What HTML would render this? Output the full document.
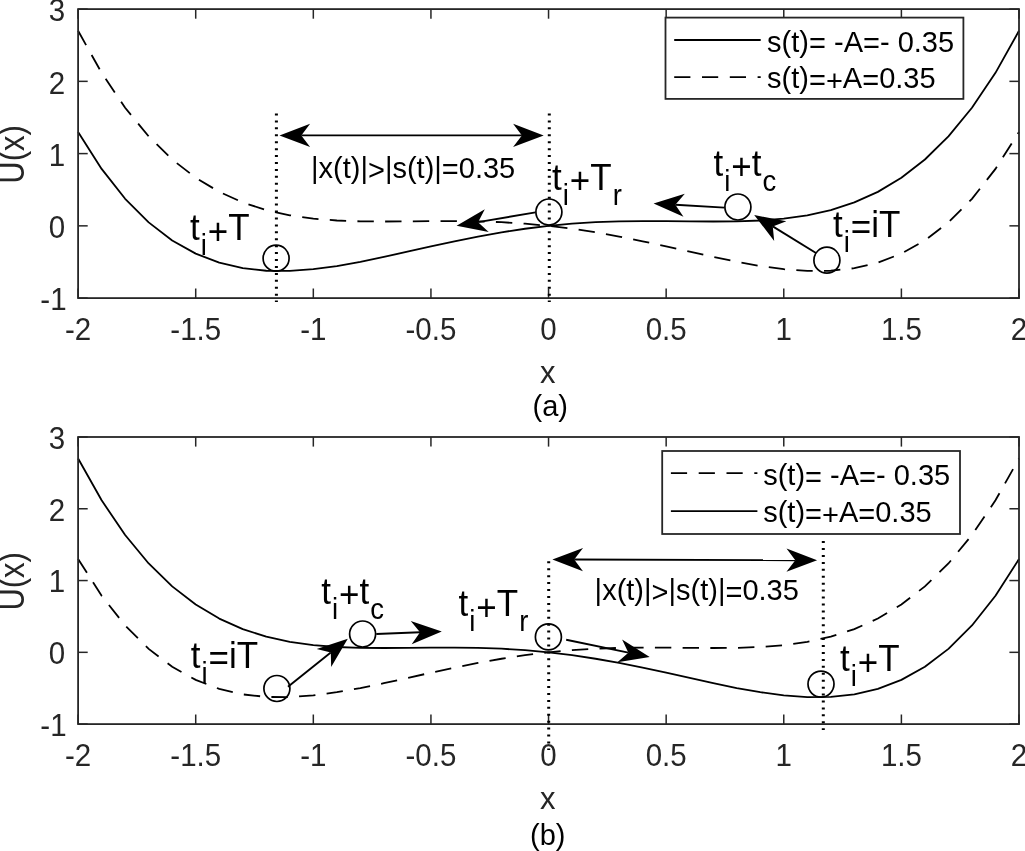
<!DOCTYPE html>
<html><head><meta charset="utf-8"><title>U(x)</title>
<style>
html,body{margin:0;padding:0;background:#fff;overflow:hidden;}
svg{display:block;}
text{font-family:"Liberation Sans", Arial, Helvetica, sans-serif;}
</style></head><body>
<svg width="1025" height="851" viewBox="0 0 1025 851">
<rect width="1025" height="851" fill="#fff"/>
<polyline points="78.10,131.93 101.62,168.92 125.14,198.80 148.67,222.38 172.19,240.42 195.71,253.62 219.24,262.67 242.76,268.19 266.28,270.76 289.80,270.93 313.32,269.20 336.85,266.02 360.37,261.80 383.89,256.92 407.41,251.69 430.94,246.40 454.46,241.28 477.98,236.54 501.50,232.32 525.03,228.74 548.55,225.85 572.07,223.68 595.60,222.21 619.12,221.37 642.64,221.05 666.16,221.11 689.69,221.34 713.21,221.51 736.73,221.34 760.25,220.50 783.77,218.62 807.30,215.30 830.82,210.07 854.34,202.44 877.87,191.86 901.39,177.76 924.91,159.50 948.43,136.40 971.96,107.76 995.48,72.82 1019.00,30.77" fill="none" stroke="#000" stroke-width="1.8" stroke-linejoin="round"/>
<polyline points="78.10,30.77 101.62,72.82 125.14,107.76 148.67,136.40 172.19,159.50 195.71,177.76 219.24,191.86 242.76,202.44 266.28,210.07 289.80,215.30 313.32,218.62 336.85,220.50 360.37,221.34 383.89,221.51 407.41,221.34 430.94,221.11 454.46,221.05 477.98,221.37 501.50,222.21 525.03,223.68 548.55,225.85 572.07,228.74 595.60,232.32 619.12,236.54 642.64,241.28 666.16,246.40 689.69,251.69 713.21,256.92 736.73,261.80 760.25,266.02 783.77,269.20 807.30,270.93 830.82,270.76 854.34,268.19 877.87,262.67 901.39,253.62 924.91,240.42 948.43,222.38 971.96,198.80 995.48,168.92 1019.00,131.93" fill="none" stroke="#000" stroke-width="1.8" stroke-dasharray="16.4 11.3"/>
<rect x="78.1" y="9.1" width="940.90" height="289.00" fill="none" stroke="#262626" stroke-width="1.8"/>
<line x1="78.10" y1="298.1" x2="78.10" y2="288.50" stroke="#262626" stroke-width="1.5"/>
<line x1="78.10" y1="9.1" x2="78.10" y2="18.70" stroke="#262626" stroke-width="1.5"/>
<line x1="195.71" y1="298.1" x2="195.71" y2="288.50" stroke="#262626" stroke-width="1.5"/>
<line x1="195.71" y1="9.1" x2="195.71" y2="18.70" stroke="#262626" stroke-width="1.5"/>
<line x1="313.32" y1="298.1" x2="313.32" y2="288.50" stroke="#262626" stroke-width="1.5"/>
<line x1="313.32" y1="9.1" x2="313.32" y2="18.70" stroke="#262626" stroke-width="1.5"/>
<line x1="430.94" y1="298.1" x2="430.94" y2="288.50" stroke="#262626" stroke-width="1.5"/>
<line x1="430.94" y1="9.1" x2="430.94" y2="18.70" stroke="#262626" stroke-width="1.5"/>
<line x1="548.55" y1="298.1" x2="548.55" y2="288.50" stroke="#262626" stroke-width="1.5"/>
<line x1="548.55" y1="9.1" x2="548.55" y2="18.70" stroke="#262626" stroke-width="1.5"/>
<line x1="666.16" y1="298.1" x2="666.16" y2="288.50" stroke="#262626" stroke-width="1.5"/>
<line x1="666.16" y1="9.1" x2="666.16" y2="18.70" stroke="#262626" stroke-width="1.5"/>
<line x1="783.77" y1="298.1" x2="783.77" y2="288.50" stroke="#262626" stroke-width="1.5"/>
<line x1="783.77" y1="9.1" x2="783.77" y2="18.70" stroke="#262626" stroke-width="1.5"/>
<line x1="901.39" y1="298.1" x2="901.39" y2="288.50" stroke="#262626" stroke-width="1.5"/>
<line x1="901.39" y1="9.1" x2="901.39" y2="18.70" stroke="#262626" stroke-width="1.5"/>
<line x1="1019.00" y1="298.1" x2="1019.00" y2="288.50" stroke="#262626" stroke-width="1.5"/>
<line x1="1019.00" y1="9.1" x2="1019.00" y2="18.70" stroke="#262626" stroke-width="1.5"/>
<line x1="78.1" y1="298.10" x2="87.70" y2="298.10" stroke="#262626" stroke-width="1.5"/>
<line x1="1019" y1="298.10" x2="1009.40" y2="298.10" stroke="#262626" stroke-width="1.5"/>
<line x1="78.1" y1="225.85" x2="87.70" y2="225.85" stroke="#262626" stroke-width="1.5"/>
<line x1="1019" y1="225.85" x2="1009.40" y2="225.85" stroke="#262626" stroke-width="1.5"/>
<line x1="78.1" y1="153.60" x2="87.70" y2="153.60" stroke="#262626" stroke-width="1.5"/>
<line x1="1019" y1="153.60" x2="1009.40" y2="153.60" stroke="#262626" stroke-width="1.5"/>
<line x1="78.1" y1="81.35" x2="87.70" y2="81.35" stroke="#262626" stroke-width="1.5"/>
<line x1="1019" y1="81.35" x2="1009.40" y2="81.35" stroke="#262626" stroke-width="1.5"/>
<line x1="78.1" y1="9.10" x2="87.70" y2="9.10" stroke="#262626" stroke-width="1.5"/>
<line x1="1019" y1="9.10" x2="1009.40" y2="9.10" stroke="#262626" stroke-width="1.5"/>
<text transform="translate(78.10 340.00) scale(1 1.05)" font-size="29.5" text-anchor="middle" fill="#262626">-2</text>
<text transform="translate(195.71 340.00) scale(1 1.05)" font-size="29.5" text-anchor="middle" fill="#262626">-1.5</text>
<text transform="translate(313.32 340.00) scale(1 1.05)" font-size="29.5" text-anchor="middle" fill="#262626">-1</text>
<text transform="translate(430.94 340.00) scale(1 1.05)" font-size="29.5" text-anchor="middle" fill="#262626">-0.5</text>
<text transform="translate(548.55 340.00) scale(1 1.05)" font-size="29.5" text-anchor="middle" fill="#262626">0</text>
<text transform="translate(666.16 340.00) scale(1 1.05)" font-size="29.5" text-anchor="middle" fill="#262626">0.5</text>
<text transform="translate(783.77 340.00) scale(1 1.05)" font-size="29.5" text-anchor="middle" fill="#262626">1</text>
<text transform="translate(901.39 340.00) scale(1 1.05)" font-size="29.5" text-anchor="middle" fill="#262626">1.5</text>
<text transform="translate(1019.00 340.00) scale(1 1.05)" font-size="29.5" text-anchor="middle" fill="#262626">2</text>
<text transform="translate(66.60 310.40) scale(1 1.05)" font-size="29.5" text-anchor="end" fill="#262626">-1</text>
<text transform="translate(65.10 238.15) scale(1 1.05)" font-size="29.5" text-anchor="end" fill="#262626">0</text>
<text transform="translate(65.10 165.90) scale(1 1.05)" font-size="29.5" text-anchor="end" fill="#262626">1</text>
<text transform="translate(65.10 93.65) scale(1 1.05)" font-size="29.5" text-anchor="end" fill="#262626">2</text>
<text transform="translate(65.10 21.40) scale(1 1.05)" font-size="29.5" text-anchor="end" fill="#262626">3</text>
<text transform="translate(547.75 382.50) scale(1 1.0)" font-size="31" text-anchor="middle" fill="#262626">x</text>
<text transform="translate(550.20 416.30) scale(1 1.03)" font-size="29" text-anchor="middle">(a)</text>
<text transform="translate(23.5 154.40) rotate(-90) scale(1 1.14)" font-size="31" text-anchor="middle" fill="#262626">U(x)</text>
<rect x="665.5" y="17.6" width="297.90" height="81.30" fill="#fff" stroke="#262626" stroke-width="1.8"/>
<line x1="674.20" y1="40.0" x2="760.70" y2="40.0" stroke="#000" stroke-width="1.8"/>
<text transform="translate(767.10 52.00) scale(1 1.0)" font-size="29" xml:space="preserve">s(t)<tspan dy="1.45">=</tspan><tspan dy="-1.45"> -A</tspan><tspan dy="1.45">=</tspan><tspan dy="-1.45">- 0.35</tspan></text>
<line x1="674.20" y1="77.1" x2="760.70" y2="77.1" stroke="#000" stroke-width="1.8" stroke-dasharray="16.2 11.6"/>
<text transform="translate(767.10 88.20) scale(1 1.0)" font-size="29" xml:space="preserve">s(t)<tspan dy="1.45">=</tspan><tspan dy="1.45">+</tspan><tspan dy="-2.90">A</tspan><tspan dy="1.45">=</tspan><tspan dy="-1.45">0.35</tspan></text>
<line x1="276.4" y1="113.5" x2="276.4" y2="302" stroke="#000" stroke-width="3.0" stroke-dasharray="2.0 4.93"/>
<line x1="549.3" y1="113.5" x2="549.3" y2="302" stroke="#000" stroke-width="3.0" stroke-dasharray="2.0 4.93"/>
<polygon points="279.50,135.40 310.10,123.80 301.30,135.40 310.10,147.00" fill="#000"/><line x1="301.30" y1="135.40" x2="521.90" y2="135.40" stroke="#000" stroke-width="1.9"/><polygon points="543.70,135.40 513.10,147.00 521.90,135.40 513.10,123.80" fill="#000"/>
<text transform="translate(311.00 178.00) scale(1 1.0)" font-size="29">|x(t)|<tspan dy="1.59">&gt;</tspan><tspan dy="-1.59">|s(t)|</tspan><tspan dy="1.45">=</tspan><tspan dy="-1.45">0.35</tspan></text>
<circle cx="276.1" cy="258.2" r="13" fill="none" stroke="#000" stroke-width="1.7"/>
<circle cx="548.9" cy="212" r="13" fill="none" stroke="#000" stroke-width="1.7"/>
<circle cx="737.9" cy="207.0" r="13" fill="none" stroke="#000" stroke-width="1.7"/>
<circle cx="826.9" cy="260.2" r="13" fill="none" stroke="#000" stroke-width="1.7"/>
<line x1="535.50" y1="212.40" x2="478.09" y2="222.15" stroke="#000" stroke-width="1.9"/><polygon points="456.60,225.80 484.83,209.24 478.09,222.15 488.71,232.11" fill="#000"/>
<line x1="724.50" y1="207.60" x2="675.36" y2="204.76" stroke="#000" stroke-width="1.9"/><polygon points="653.60,203.50 684.82,193.69 675.36,204.76 683.48,216.85" fill="#000"/>
<line x1="816.00" y1="253.00" x2="772.77" y2="226.42" stroke="#000" stroke-width="1.9"/><polygon points="754.20,215.00 786.34,221.15 772.77,226.42 774.19,240.91" fill="#000"/>
<text transform="translate(190.00 240.00) scale(1 1.06)" font-size="35">t<tspan font-size="27.5" dx="1" dy="14.15">i</tspan><tspan dx="1" dy="-10.85">+</tspan><tspan dy="-3.30">T</tspan></text>
<text transform="translate(552.00 189.50) scale(1 1.06)" font-size="35">t<tspan font-size="27.5" dx="1" dy="14.15">i</tspan><tspan dx="1" dy="-10.85">+</tspan><tspan dy="-3.30">T</tspan><tspan font-size="27.5" dx="1" dy="14.15">r</tspan></text>
<text transform="translate(713.50 175.60) scale(1 1.06)" font-size="35">t<tspan font-size="27.5" dx="1" dy="14.15">i</tspan><tspan dx="1" dy="-10.85">+</tspan><tspan dy="-3.30">t</tspan><tspan font-size="27.5" dx="1" dy="14.15">c</tspan></text>
<text transform="translate(833.00 237.40) scale(1 1.06)" font-size="35">t<tspan font-size="27.5" dx="1" dy="14.15">i</tspan><tspan dx="1" dy="-12.50">=</tspan><tspan dy="-1.65">iT</tspan></text>
<polyline points="78.10,458.53 101.62,500.30 125.14,535.02 148.67,563.47 172.19,586.41 195.71,604.55 219.24,618.56 242.76,629.07 266.28,636.65 289.80,641.84 313.32,645.15 336.85,647.01 360.37,647.85 383.89,648.02 407.41,647.85 430.94,647.61 454.46,647.56 477.98,647.87 501.50,648.71 525.03,650.17 548.55,652.33 572.07,655.19 595.60,658.76 619.12,662.95 642.64,667.66 666.16,672.74 689.69,677.99 713.21,683.19 736.73,688.04 760.25,692.23 783.77,695.39 807.30,697.11 830.82,696.94 854.34,694.38 877.87,688.90 901.39,679.91 924.91,666.79 948.43,648.88 971.96,625.45 995.48,595.76 1019.00,559.02" fill="none" stroke="#000" stroke-width="1.8" stroke-linejoin="round"/>
<polyline points="78.10,559.02 101.62,595.76 125.14,625.45 148.67,648.88 172.19,666.79 195.71,679.91 219.24,688.90 242.76,694.38 266.28,696.94 289.80,697.11 313.32,695.39 336.85,692.23 360.37,688.04 383.89,683.19 407.41,677.99 430.94,672.74 454.46,667.66 477.98,662.95 501.50,658.76 525.03,655.19 548.55,652.33 572.07,650.17 595.60,648.71 619.12,647.87 642.64,647.56 666.16,647.61 689.69,647.85 713.21,648.02 736.73,647.85 760.25,647.01 783.77,645.15 807.30,641.84 830.82,636.65 854.34,629.07 877.87,618.56 901.39,604.55 924.91,586.41 948.43,563.47 971.96,535.02 995.48,500.30 1019.00,458.53" fill="none" stroke="#000" stroke-width="1.8" stroke-dasharray="16.4 11.3"/>
<rect x="78.1" y="437" width="940.90" height="287.10" fill="none" stroke="#262626" stroke-width="1.8"/>
<line x1="78.10" y1="724.1" x2="78.10" y2="714.50" stroke="#262626" stroke-width="1.5"/>
<line x1="78.10" y1="437" x2="78.10" y2="446.60" stroke="#262626" stroke-width="1.5"/>
<line x1="195.71" y1="724.1" x2="195.71" y2="714.50" stroke="#262626" stroke-width="1.5"/>
<line x1="195.71" y1="437" x2="195.71" y2="446.60" stroke="#262626" stroke-width="1.5"/>
<line x1="313.32" y1="724.1" x2="313.32" y2="714.50" stroke="#262626" stroke-width="1.5"/>
<line x1="313.32" y1="437" x2="313.32" y2="446.60" stroke="#262626" stroke-width="1.5"/>
<line x1="430.94" y1="724.1" x2="430.94" y2="714.50" stroke="#262626" stroke-width="1.5"/>
<line x1="430.94" y1="437" x2="430.94" y2="446.60" stroke="#262626" stroke-width="1.5"/>
<line x1="548.55" y1="724.1" x2="548.55" y2="714.50" stroke="#262626" stroke-width="1.5"/>
<line x1="548.55" y1="437" x2="548.55" y2="446.60" stroke="#262626" stroke-width="1.5"/>
<line x1="666.16" y1="724.1" x2="666.16" y2="714.50" stroke="#262626" stroke-width="1.5"/>
<line x1="666.16" y1="437" x2="666.16" y2="446.60" stroke="#262626" stroke-width="1.5"/>
<line x1="783.77" y1="724.1" x2="783.77" y2="714.50" stroke="#262626" stroke-width="1.5"/>
<line x1="783.77" y1="437" x2="783.77" y2="446.60" stroke="#262626" stroke-width="1.5"/>
<line x1="901.39" y1="724.1" x2="901.39" y2="714.50" stroke="#262626" stroke-width="1.5"/>
<line x1="901.39" y1="437" x2="901.39" y2="446.60" stroke="#262626" stroke-width="1.5"/>
<line x1="1019.00" y1="724.1" x2="1019.00" y2="714.50" stroke="#262626" stroke-width="1.5"/>
<line x1="1019.00" y1="437" x2="1019.00" y2="446.60" stroke="#262626" stroke-width="1.5"/>
<line x1="78.1" y1="724.10" x2="87.70" y2="724.10" stroke="#262626" stroke-width="1.5"/>
<line x1="1019" y1="724.10" x2="1009.40" y2="724.10" stroke="#262626" stroke-width="1.5"/>
<line x1="78.1" y1="652.33" x2="87.70" y2="652.33" stroke="#262626" stroke-width="1.5"/>
<line x1="1019" y1="652.33" x2="1009.40" y2="652.33" stroke="#262626" stroke-width="1.5"/>
<line x1="78.1" y1="580.55" x2="87.70" y2="580.55" stroke="#262626" stroke-width="1.5"/>
<line x1="1019" y1="580.55" x2="1009.40" y2="580.55" stroke="#262626" stroke-width="1.5"/>
<line x1="78.1" y1="508.77" x2="87.70" y2="508.77" stroke="#262626" stroke-width="1.5"/>
<line x1="1019" y1="508.77" x2="1009.40" y2="508.77" stroke="#262626" stroke-width="1.5"/>
<line x1="78.1" y1="437.00" x2="87.70" y2="437.00" stroke="#262626" stroke-width="1.5"/>
<line x1="1019" y1="437.00" x2="1009.40" y2="437.00" stroke="#262626" stroke-width="1.5"/>
<text transform="translate(78.10 766.00) scale(1 1.05)" font-size="29.5" text-anchor="middle" fill="#262626">-2</text>
<text transform="translate(195.71 766.00) scale(1 1.05)" font-size="29.5" text-anchor="middle" fill="#262626">-1.5</text>
<text transform="translate(313.32 766.00) scale(1 1.05)" font-size="29.5" text-anchor="middle" fill="#262626">-1</text>
<text transform="translate(430.94 766.00) scale(1 1.05)" font-size="29.5" text-anchor="middle" fill="#262626">-0.5</text>
<text transform="translate(548.55 766.00) scale(1 1.05)" font-size="29.5" text-anchor="middle" fill="#262626">0</text>
<text transform="translate(666.16 766.00) scale(1 1.05)" font-size="29.5" text-anchor="middle" fill="#262626">0.5</text>
<text transform="translate(783.77 766.00) scale(1 1.05)" font-size="29.5" text-anchor="middle" fill="#262626">1</text>
<text transform="translate(901.39 766.00) scale(1 1.05)" font-size="29.5" text-anchor="middle" fill="#262626">1.5</text>
<text transform="translate(1019.00 766.00) scale(1 1.05)" font-size="29.5" text-anchor="middle" fill="#262626">2</text>
<text transform="translate(66.60 735.90) scale(1 1.05)" font-size="29.5" text-anchor="end" fill="#262626">-1</text>
<text transform="translate(65.10 664.12) scale(1 1.05)" font-size="29.5" text-anchor="end" fill="#262626">0</text>
<text transform="translate(65.10 592.35) scale(1 1.05)" font-size="29.5" text-anchor="end" fill="#262626">1</text>
<text transform="translate(65.10 520.57) scale(1 1.05)" font-size="29.5" text-anchor="end" fill="#262626">2</text>
<text transform="translate(65.10 448.80) scale(1 1.05)" font-size="29.5" text-anchor="end" fill="#262626">3</text>
<text transform="translate(547.75 808.60) scale(1 1.0)" font-size="31" text-anchor="middle" fill="#262626">x</text>
<text transform="translate(547.80 845.40) scale(1 1.03)" font-size="29" text-anchor="middle">(b)</text>
<text transform="translate(23.5 581.35) rotate(-90) scale(1 1.14)" font-size="31" text-anchor="middle" fill="#262626">U(x)</text>
<rect x="662.2" y="451" width="297.80" height="83.00" fill="#fff" stroke="#262626" stroke-width="1.8"/>
<line x1="670.90" y1="473.2" x2="757.40" y2="473.2" stroke="#000" stroke-width="1.8" stroke-dasharray="16.2 11.6"/>
<text transform="translate(763.20 485.20) scale(1 1.0)" font-size="29" xml:space="preserve">s(t)<tspan dy="1.45">=</tspan><tspan dy="-1.45"> -A</tspan><tspan dy="1.45">=</tspan><tspan dy="-1.45">- 0.35</tspan></text>
<line x1="670.90" y1="511.2" x2="757.40" y2="511.2" stroke="#000" stroke-width="1.8"/>
<text transform="translate(763.20 522.20) scale(1 1.0)" font-size="29" xml:space="preserve">s(t)<tspan dy="1.45">=</tspan><tspan dy="1.45">+</tspan><tspan dy="-2.90">A</tspan><tspan dy="1.45">=</tspan><tspan dy="-1.45">0.35</tspan></text>
<line x1="548.7" y1="561.3" x2="548.7" y2="750" stroke="#000" stroke-width="3.0" stroke-dasharray="2.0 4.93"/>
<line x1="823.3" y1="541.1" x2="823.3" y2="730" stroke="#000" stroke-width="3.0" stroke-dasharray="2.0 4.93"/>
<polygon points="552.40,559.50 583.03,547.99 574.20,559.57 582.96,571.19" fill="#000"/><line x1="574.20" y1="559.57" x2="795.30" y2="560.23" stroke="#000" stroke-width="1.9"/><polygon points="817.10,560.30 786.47,571.81 795.30,560.23 786.54,548.61" fill="#000"/>
<text transform="translate(594.60 600.40) scale(1 1.0)" font-size="29">|x(t)|<tspan dy="1.59">&gt;</tspan><tspan dy="-1.59">|s(t)|</tspan><tspan dy="1.45">=</tspan><tspan dy="-1.45">0.35</tspan></text>
<circle cx="276.9" cy="688.5" r="13" fill="none" stroke="#000" stroke-width="1.7"/>
<circle cx="362.6" cy="634" r="13" fill="none" stroke="#000" stroke-width="1.7"/>
<circle cx="548.4" cy="636.9" r="13" fill="none" stroke="#000" stroke-width="1.7"/>
<circle cx="821.0" cy="684.1" r="13" fill="none" stroke="#000" stroke-width="1.7"/>
<line x1="288.00" y1="686.70" x2="330.79" y2="652.43" stroke="#000" stroke-width="1.9"/><polygon points="347.80,638.80 331.17,666.98 330.79,652.43 316.67,648.88" fill="#000"/>
<line x1="376.30" y1="634.00" x2="420.02" y2="632.26" stroke="#000" stroke-width="1.9"/><polygon points="441.80,631.40 411.68,644.20 420.02,632.26 410.76,621.02" fill="#000"/>
<line x1="566.20" y1="639.70" x2="628.36" y2="652.65" stroke="#000" stroke-width="1.9"/><polygon points="649.70,657.10 617.38,662.21 628.36,652.65 622.11,639.50" fill="#000"/>
<text transform="translate(190.80 668.20) scale(1 1.06)" font-size="35">t<tspan font-size="27.5" dx="1" dy="14.15">i</tspan><tspan dx="1" dy="-12.50">=</tspan><tspan dy="-1.65">iT</tspan></text>
<text transform="translate(321.20 603.70) scale(1 1.06)" font-size="35">t<tspan font-size="27.5" dx="1" dy="14.15">i</tspan><tspan dx="1" dy="-10.85">+</tspan><tspan dy="-3.30">t</tspan><tspan font-size="27.5" dx="1" dy="14.15">c</tspan></text>
<text transform="translate(458.50 616.00) scale(1 1.06)" font-size="35">t<tspan font-size="27.5" dx="1" dy="14.15">i</tspan><tspan dx="1" dy="-10.85">+</tspan><tspan dy="-3.30">T</tspan><tspan font-size="27.5" dx="1" dy="14.15">r</tspan></text>
<text transform="translate(840.00 671.20) scale(1 1.06)" font-size="35">t<tspan font-size="27.5" dx="1" dy="14.15">i</tspan><tspan dx="1" dy="-10.85">+</tspan><tspan dy="-3.30">T</tspan></text>
</svg>
</body></html>
